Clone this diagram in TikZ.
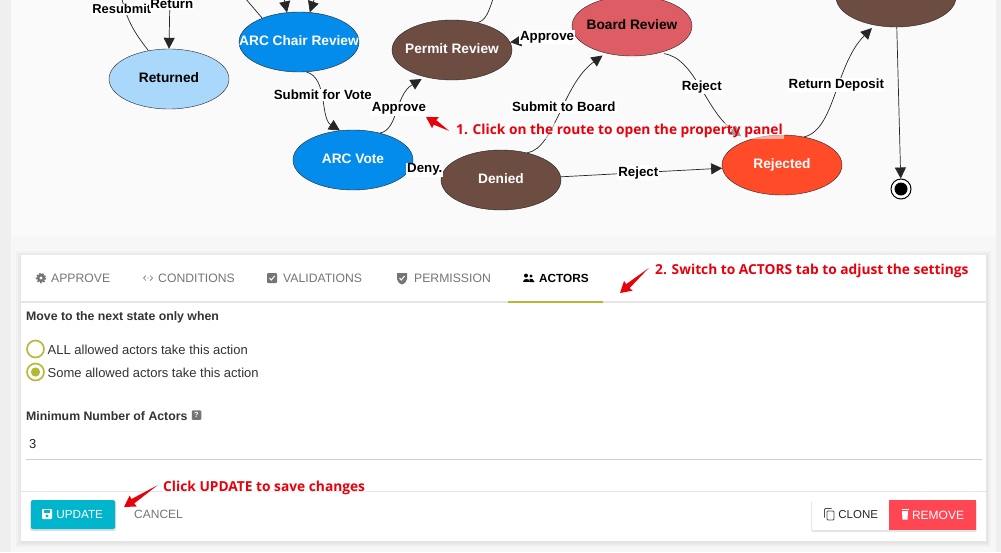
\documentclass[tikz,border=0pt]{standalone}
\usepackage{fontspec}
\usepackage{xcolor}
\usepackage{tikz}
\usetikzlibrary{shapes.geometric, arrows.meta, positioning}
\setmainfont{Liberation Sans}
\newfontfamily\notefont{Open Sans}

\definecolor{pagegray}{HTML}{EFEFEF}
\definecolor{canvasgray}{HTML}{FAFAFA}
\definecolor{stateblue}{HTML}{038CEB}
\definecolor{statesky}{HTML}{AAD8FA}
\definecolor{statebrown}{HTML}{6D4C41}
\definecolor{staterose}{HTML}{DE5C63}
\definecolor{stateorange}{HTML}{FF4B28}
\definecolor{tabgray}{HTML}{757575}
\definecolor{olive}{HTML}{B4B833}
\definecolor{teal}{HTML}{00B5CC}
\definecolor{alarm}{HTML}{FF4652}
\definecolor{notered}{HTML}{E8000B}
\definecolor{rulegray}{HTML}{E6E6E6}

\newcommand{\statetxt}[1]{\makebox[0pt]{\raisebox{2pt}{#1}}}

\tikzset{
    state/.style={ellipse, draw=black!85, inner sep=0pt, minimum width=120pt, minimum height=60pt, font=\bfseries\fontsize{13.7}{14}\selectfont},
    route/.style={draw=black!85, line width=.7pt, -{Triangle[length=11pt,width=11pt]}},
    plainroute/.style={draw=black!85, line width=.7pt},
    routelabel/.style={fill=white, inner sep=1pt, text=black, font=\bfseries\fontsize{13.3}{14}\selectfont},
    tab/.style={anchor=west, inner sep=0pt, text=tabgray, font=\fontsize{12.2}{13}\selectfont},
    body/.style={anchor=west, inner sep=0pt, text=black!80, font=\fontsize{13}{14}\selectfont},
    heading/.style={anchor=west, inner sep=0pt, text=black!80, font=\bfseries\fontsize{12.3}{13}\selectfont},
    note/.style={anchor=west, inner sep=1pt, fill=white, fill opacity=.55, text opacity=1, text=notered, font=\notefont\bfseries\fontsize{13.75}{14}\selectfont},
    radio/.style={circle, draw=olive, line width=1.6pt, fill=white, minimum size=17pt, inner sep=0pt},
    button/.style={inner sep=0pt, font=\fontsize{12}{13}\selectfont},
    icon/.style={fill=tabgray, draw=none},
    pics/redarrow/.style={code={
        \fill[notered] (0,0) -- (11,6.5) -- (10.5,2.6) -- (#1,0) -- (10.5,-2.6) -- (11,-6.5) -- cycle;
    }},
}

\begin{document}
\begin{tikzpicture}[x=1pt, y=-1pt]
        \useasboundingbox (0,0) rectangle (1001,552);
        \clip (0,0) rectangle (1001,552);

        % backgrounds
        \fill[pagegray] (0,0) rectangle (1001,552);
        \fill[canvasgray] (11,0) rectangle (996,236);
        \fill[black!3] (11,236) rectangle (996,552);
        \foreach \s in {5,3,1.5}
            \fill[black, opacity=.025] (21-\s,255-\s+1) rectangle (986+\s,541+\s+1);
        \fill[white] (21,255) rectangle (986,541);

        % states
        \node[state, fill=statesky, text=black] (returned) at (169,79) {\statetxt{Returned}};
        \node[state, fill=stateblue, text=white] (arcchair) at (299,42) {\statetxt{ARC Chair Review}};
        \node[state, fill=statebrown, text=white] (permit) at (452,50) {\statetxt{Permit Review}};
        \node[state, fill=staterose, text=black] (board) at (632,26) {\statetxt{Board Review}};
        \node[state, fill=stateblue, text=white] (arcvote) at (353,160) {\statetxt{ARC Vote}};
        \node[state, fill=statebrown, text=white] (denied) at (501,180) {\statetxt{Denied}};
        \node[state, fill=stateorange, text=white] (rejected) at (782,165) {\statetxt{Rejected}};
        \node[state, fill=statebrown, text=white] (closing) at (896,-3) {};
        \node[circle, draw=black, line width=1pt, fill=white, minimum size=20pt, inner sep=0pt] (finish) at (901,189) {};
        \node[circle, fill=black, minimum size=13pt, inner sep=0pt] (finishdot) at (finish) {};

        % free ends above the crop
        \coordinate (resubmitend) at (121,-6);
        \coordinate (returnend) at (170,-6);
        \coordinate (chairleft) at (245,-2);
        \coordinate (chairmid) at (283,-6);
        \coordinate (chairright) at (316,-6);
        \coordinate (permitend) at (494,-4);

        % routes
        \draw[plainroute] (returned.126) .. controls (138,37) and (126,22) .. node[routelabel, pos=.8, xshift=-3pt, font=\bfseries\fontsize{12.9}{14}\selectfont] {Resubmit} (resubmitend);
        \draw[route] (returnend) -- node[routelabel, pos=.19, xshift=2pt] {Return} (returned.north);
        \draw[plainroute] (arcchair.147) -- (chairleft);
        \draw[route] (chairmid) -- (arcchair.112);
        \draw[route] (chairright) -- (arcchair.70);
        \draw[plainroute] (permit.47) .. controls (487,20) and (489,10) .. (permitend);
        \draw[route] (arcchair.-76) .. controls (328,78) and (320,118) .. node[routelabel, pos=.45] {Submit for Vote} (arcvote.114);
        \draw[route, shorten >=4pt] (arcvote.45) .. controls (398,130) and (395,95) .. node[routelabel, pos=.53] {Approve} (permit.-135);
        \draw[route] (arcvote) -- node[routelabel, pos=.43] {Deny.} (denied);
        \draw[route] (board) -- node[routelabel, pos=.42] {Approve} (permit);
        \draw[route, shorten >=4pt] (denied.46) .. controls (555,148) and (562,85) .. node[routelabel, pos=.55] {Submit to Board} (board.-134);
        \draw[route, shorten <=5pt, shorten >=7pt] (board.-45) .. controls (695,58) and (705,110) .. node[routelabel, pos=.5, xshift=1pt] {Reject} (rejected.145);
        \draw[route] (denied) -- node[routelabel, pos=.48] {Reject} (rejected);
        \draw[route, shorten >=4pt] (rejected.52) .. controls (835,130) and (835,65) .. node[routelabel, pos=.56, xshift=-3pt] {Return Deposit} (closing.-127);
        \draw[route] (closing) -- (finish);

        % tabs
        \node[tab] (tabapprove) at (51,278.5) {APPROVE};
        \node[tab] (tabconditions) at (158,278.5) {CONDITIONS};
        \node[tab] (tabvalidations) at (283,278.5) {VALIDATIONS};
        \node[tab] (tabpermission) at (414,278.5) {PERMISSION};
        \node[tab, text=black, font=\bfseries\fontsize{11.8}{13}\selectfont] (tabactors) at (539,278.5) {ACTORS};
        \fill[rulegray] (21,301) rectangle (986,303);
        \fill[olive] (508,301) rectangle (603,303);

        % tab icons
        \fill[icon] (41,278) circle (4.2);
        \draw[tabgray, line width=1.4pt, dash pattern=on 1.6pt off 1.6pt] (41,278) circle (4.6);
        \fill[white] (41,278) circle (1.7);
        \draw[tabgray, line width=.7pt] (146,275.5) -- (143.5,278) -- (146,280.5) (150,275.5) -- (152.5,278) -- (150,280.5);
        \fill[tabgray] (148,278) circle (.7);
        \fill[icon, rounded corners=1pt] (267,273) rectangle (277,283);
        \draw[white, line width=1pt] (269.5,278) -- (271.3,280) -- (274.8,275.8);
        \fill[icon] (397,273) -- (407,273) -- (407,279) .. controls (407,282) and (404,284) .. (402,284.5) .. controls (400,284) and (397,282) .. (397,279) -- cycle;
        \draw[white, line width=1pt] (399.5,278) -- (401.3,280) -- (404.5,276);
        \fill[black] (526,275.6) circle (2) (531,276) circle (1.7);
        \fill[black] (522.5,282) .. controls (522.5,278.4) and (529.5,278.4) .. (529.5,282) -- cycle;
        \fill[black] (530.2,282) .. controls (530.2,280.5) and (530,279.5) .. (529.4,278.8) .. controls (531,278.3) and (534.5,279) .. (534.5,282) -- cycle;

        % form
        \node[heading] (movetitle) at (26,317) {Move to the next state only when};
        \node[radio] (radioall) at (35.5,349) {};
        \node[radio] (radiosome) at (35.5,372) {};
        \fill[olive] (radiosome) circle (4.6);
        \node[body] (textall) at (47.5,349.5) {ALL allowed actors take this action};
        \node[body] (textsome) at (47.5,372.5) {Some allowed actors take this action};
        \node[heading] (mintitle) at (26,416) {Minimum Number of Actors};
        \node[fill=tabgray, rounded corners=1pt, text=white, inner sep=0pt, minimum size=9.5pt, font=\bfseries\fontsize{7.5}{8}\selectfont] (helpmark) at (196.5,415) {?};
        \node[body, text=black!85] (minvalue) at (29,444) {3};
        \fill[rulegray!90!black] (26,459) rectangle (982,460);
        \fill[rulegray] (21,490.5) rectangle (986,492);

        % buttons
        \fill[black, opacity=.12, rounded corners=2pt] (30,501) rectangle (116,531);
        \node[button, fill=teal, text=white, rounded corners=2pt, minimum width=84pt, minimum height=29pt, text width=60pt, align=right, font=\fontsize{11.7}{13}\selectfont] (update) at (73,514.5) {UPDATE};
        \fill[white, rounded corners=.8pt] (42,509) rectangle (52,519);
        \fill[teal] (44,510) rectangle (49.5,512.6);
        \fill[teal] (47,516) circle (1.6);
        \node[button, text=tabgray, anchor=west] (cancel) at (134,514.5) {CANCEL};
        \fill[black, opacity=.1, rounded corners=2pt] (811,501) rectangle (977,532);
        \node[button, fill=white, text=black!85, minimum width=77pt, minimum height=30pt, text width=55pt, align=right, font=\fontsize{11.5}{13}\selectfont] (clone) at (850.5,515) {CLONE};
        \node[button, fill=alarm, text=white, minimum width=87pt, minimum height=30pt, text width=63pt, align=right] (remove) at (932.5,515) {REMOVE};
        \draw[black!70, line width=.9pt, rounded corners=1pt] (824.5,517.5) -- (824.5,508.5) -- (831.5,508.5);
        \draw[black!70, line width=.9pt, rounded corners=1pt] (827,511) rectangle (834,520);
        \fill[white] (902,511) -- (908,511) -- (907.5,519.5) -- (902.5,519.5) -- cycle;
        \fill[white] (901.5,509) rectangle (908.5,510.4);

        % notes
        \node[note] (noteone) at (455,131) {1. Click on the route to open the property panel};
        \node[note] (notetwo) at (654,271) {2. Switch to ACTORS tab to adjust the settings};
        \node[note] (notethree) at (162,488) {Click UPDATE to save changes};
        \pic[rotate=-31] at (426,117) {redarrow=27};
        \pic[rotate=41] at (620,293) {redarrow=38};
        \pic[rotate=33] at (124,507) {redarrow=40};
    \end{tikzpicture}
\end{document}
